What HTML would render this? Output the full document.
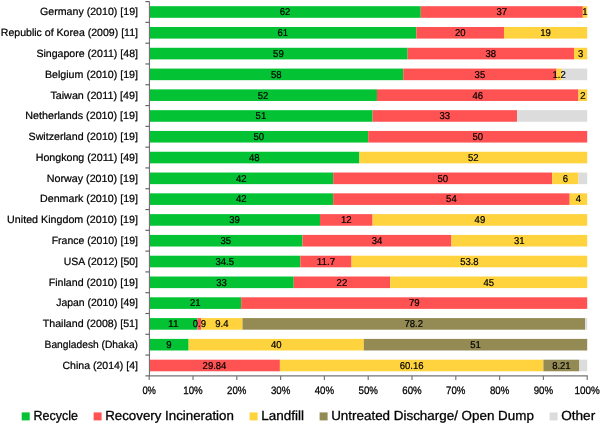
<!DOCTYPE html>
<html lang="en"><head><meta charset="utf-8"><title>Waste treatment by country</title>
<style>
html,body{margin:0;padding:0;background:#fff}
svg{display:block}
text{font-family:"Liberation Sans",Arial,sans-serif;fill:#000;stroke:#000;stroke-width:0.22px;text-rendering:geometricPrecision}
.s{font-size:10.5px}
.l{font-size:13.2px;stroke-width:0.3px}
.v{font-size:10px}
.a{font-size:10.8px;stroke-width:0.26px}
</style></head><body>
<svg width="600" height="425" viewBox="0 0 600 425">
<rect width="600" height="425" fill="#fff"/>
<g>
<rect x="149.20" y="6.20" width="271.56" height="11.6" fill="#03C334"/>
<rect x="420.76" y="6.20" width="162.06" height="11.6" fill="#FF5353"/>
<rect x="582.82" y="6.20" width="4.38" height="11.6" fill="#FED33E"/>
<text class="v" x="285.0" y="15.3" text-anchor="middle" textLength="10.6" lengthAdjust="spacingAndGlyphs">62</text>
<text class="v" x="501.8" y="15.3" text-anchor="middle" textLength="10.6" lengthAdjust="spacingAndGlyphs">37</text>
<text class="v" x="585.0" y="15.3" text-anchor="middle" textLength="5.3" lengthAdjust="spacingAndGlyphs">1</text>
<text class="s" x="138.0" y="15.3" text-anchor="end" textLength="97.9" lengthAdjust="spacingAndGlyphs">Germany (2010) [19]</text>
</g>
<g>
<rect x="149.20" y="26.99" width="267.18" height="11.6" fill="#03C334"/>
<rect x="416.38" y="26.99" width="87.60" height="11.6" fill="#FF5353"/>
<rect x="503.98" y="26.99" width="83.22" height="11.6" fill="#FED33E"/>
<text class="v" x="282.8" y="36.1" text-anchor="middle" textLength="10.6" lengthAdjust="spacingAndGlyphs">61</text>
<text class="v" x="460.2" y="36.1" text-anchor="middle" textLength="10.6" lengthAdjust="spacingAndGlyphs">20</text>
<text class="v" x="545.6" y="36.1" text-anchor="middle" textLength="10.6" lengthAdjust="spacingAndGlyphs">19</text>
<text class="s" x="138.0" y="36.1" text-anchor="end" textLength="137.2" lengthAdjust="spacingAndGlyphs">Republic of Korea (2009) [11]</text>
</g>
<g>
<rect x="149.20" y="47.78" width="258.42" height="11.6" fill="#03C334"/>
<rect x="407.62" y="47.78" width="166.44" height="11.6" fill="#FF5353"/>
<rect x="574.06" y="47.78" width="13.14" height="11.6" fill="#FED33E"/>
<text class="v" x="278.4" y="56.9" text-anchor="middle" textLength="10.6" lengthAdjust="spacingAndGlyphs">59</text>
<text class="v" x="490.8" y="56.9" text-anchor="middle" textLength="10.6" lengthAdjust="spacingAndGlyphs">38</text>
<text class="v" x="580.6" y="56.9" text-anchor="middle" textLength="5.3" lengthAdjust="spacingAndGlyphs">3</text>
<text class="s" x="138.0" y="56.9" text-anchor="end" textLength="101.6" lengthAdjust="spacingAndGlyphs">Singapore (2011) [48]</text>
</g>
<g>
<rect x="149.20" y="68.58" width="254.04" height="11.6" fill="#03C334"/>
<rect x="403.24" y="68.58" width="153.30" height="11.6" fill="#FF5353"/>
<rect x="556.54" y="68.58" width="5.26" height="11.6" fill="#FED33E"/>
<rect x="561.80" y="68.58" width="25.40" height="11.6" fill="#DCDCDC"/>
<text class="v" x="276.2" y="77.7" text-anchor="middle" textLength="10.6" lengthAdjust="spacingAndGlyphs">58</text>
<text class="v" x="479.9" y="77.7" text-anchor="middle" textLength="10.6" lengthAdjust="spacingAndGlyphs">35</text>
<text class="v" x="559.2" y="77.7" text-anchor="middle" textLength="13.2" lengthAdjust="spacingAndGlyphs">1.2</text>
<text class="s" x="138.0" y="77.7" text-anchor="end" textLength="93.1" lengthAdjust="spacingAndGlyphs">Belgium (2010) [19]</text>
</g>
<g>
<rect x="149.20" y="89.37" width="227.76" height="11.6" fill="#03C334"/>
<rect x="376.96" y="89.37" width="201.48" height="11.6" fill="#FF5353"/>
<rect x="578.44" y="89.37" width="8.76" height="11.6" fill="#FED33E"/>
<text class="v" x="263.1" y="98.5" text-anchor="middle" textLength="10.6" lengthAdjust="spacingAndGlyphs">52</text>
<text class="v" x="477.7" y="98.5" text-anchor="middle" textLength="10.6" lengthAdjust="spacingAndGlyphs">46</text>
<text class="v" x="582.8" y="98.5" text-anchor="middle" textLength="5.3" lengthAdjust="spacingAndGlyphs">2</text>
<text class="s" x="138.0" y="98.5" text-anchor="end" textLength="87.6" lengthAdjust="spacingAndGlyphs">Taiwan (2011) [49]</text>
</g>
<g>
<rect x="149.20" y="110.16" width="223.38" height="11.6" fill="#03C334"/>
<rect x="372.58" y="110.16" width="144.54" height="11.6" fill="#FF5353"/>
<rect x="517.12" y="110.16" width="70.08" height="11.6" fill="#DCDCDC"/>
<text class="v" x="260.9" y="119.3" text-anchor="middle" textLength="10.6" lengthAdjust="spacingAndGlyphs">51</text>
<text class="v" x="444.8" y="119.3" text-anchor="middle" textLength="10.6" lengthAdjust="spacingAndGlyphs">33</text>
<text class="s" x="138.0" y="119.3" text-anchor="end" textLength="112.7" lengthAdjust="spacingAndGlyphs">Netherlands (2010) [19]</text>
</g>
<g>
<rect x="149.20" y="130.95" width="219.00" height="11.6" fill="#03C334"/>
<rect x="368.20" y="130.95" width="219.00" height="11.6" fill="#FF5353"/>
<text class="v" x="258.7" y="140.1" text-anchor="middle" textLength="10.6" lengthAdjust="spacingAndGlyphs">50</text>
<text class="v" x="477.7" y="140.1" text-anchor="middle" textLength="10.6" lengthAdjust="spacingAndGlyphs">50</text>
<text class="s" x="138.0" y="140.1" text-anchor="end" textLength="109.4" lengthAdjust="spacingAndGlyphs">Switzerland (2010) [19]</text>
</g>
<g>
<rect x="149.20" y="151.75" width="210.24" height="11.6" fill="#03C334"/>
<rect x="359.44" y="151.75" width="227.76" height="11.6" fill="#FED33E"/>
<text class="v" x="254.3" y="160.8" text-anchor="middle" textLength="10.6" lengthAdjust="spacingAndGlyphs">48</text>
<text class="v" x="473.3" y="160.8" text-anchor="middle" textLength="10.6" lengthAdjust="spacingAndGlyphs">52</text>
<text class="s" x="138.0" y="160.8" text-anchor="end" textLength="102.3" lengthAdjust="spacingAndGlyphs">Hongkong (2011) [49]</text>
</g>
<g>
<rect x="149.20" y="172.54" width="183.96" height="11.6" fill="#03C334"/>
<rect x="333.16" y="172.54" width="219.00" height="11.6" fill="#FF5353"/>
<rect x="552.16" y="172.54" width="26.28" height="11.6" fill="#FED33E"/>
<rect x="578.44" y="172.54" width="8.76" height="11.6" fill="#DCDCDC"/>
<text class="v" x="241.2" y="181.6" text-anchor="middle" textLength="10.6" lengthAdjust="spacingAndGlyphs">42</text>
<text class="v" x="442.7" y="181.6" text-anchor="middle" textLength="10.6" lengthAdjust="spacingAndGlyphs">50</text>
<text class="v" x="565.3" y="181.6" text-anchor="middle" textLength="5.3" lengthAdjust="spacingAndGlyphs">6</text>
<text class="s" x="138.0" y="181.6" text-anchor="end" textLength="91.3" lengthAdjust="spacingAndGlyphs">Norway (2010) [19]</text>
</g>
<g>
<rect x="149.20" y="193.33" width="183.96" height="11.6" fill="#03C334"/>
<rect x="333.16" y="193.33" width="236.52" height="11.6" fill="#FF5353"/>
<rect x="569.68" y="193.33" width="17.52" height="11.6" fill="#FED33E"/>
<text class="v" x="241.2" y="202.4" text-anchor="middle" textLength="10.6" lengthAdjust="spacingAndGlyphs">42</text>
<text class="v" x="451.4" y="202.4" text-anchor="middle" textLength="10.6" lengthAdjust="spacingAndGlyphs">54</text>
<text class="v" x="578.4" y="202.4" text-anchor="middle" textLength="5.3" lengthAdjust="spacingAndGlyphs">4</text>
<text class="s" x="138.0" y="202.4" text-anchor="end" textLength="98.0" lengthAdjust="spacingAndGlyphs">Denmark (2010) [19]</text>
</g>
<g>
<rect x="149.20" y="214.13" width="170.82" height="11.6" fill="#03C334"/>
<rect x="320.02" y="214.13" width="52.56" height="11.6" fill="#FF5353"/>
<rect x="372.58" y="214.13" width="214.62" height="11.6" fill="#FED33E"/>
<text class="v" x="234.6" y="223.2" text-anchor="middle" textLength="10.6" lengthAdjust="spacingAndGlyphs">39</text>
<text class="v" x="346.3" y="223.2" text-anchor="middle" textLength="10.6" lengthAdjust="spacingAndGlyphs">12</text>
<text class="v" x="479.9" y="223.2" text-anchor="middle" textLength="10.6" lengthAdjust="spacingAndGlyphs">49</text>
<text class="s" x="138.0" y="223.2" text-anchor="end" textLength="130.9" lengthAdjust="spacingAndGlyphs">United Kingdom (2010) [19]</text>
</g>
<g>
<rect x="149.20" y="234.92" width="153.30" height="11.6" fill="#03C334"/>
<rect x="302.50" y="234.92" width="148.92" height="11.6" fill="#FF5353"/>
<rect x="451.42" y="234.92" width="135.78" height="11.6" fill="#FED33E"/>
<text class="v" x="225.8" y="244.0" text-anchor="middle" textLength="10.6" lengthAdjust="spacingAndGlyphs">35</text>
<text class="v" x="377.0" y="244.0" text-anchor="middle" textLength="10.6" lengthAdjust="spacingAndGlyphs">34</text>
<text class="v" x="519.3" y="244.0" text-anchor="middle" textLength="10.6" lengthAdjust="spacingAndGlyphs">31</text>
<text class="s" x="138.0" y="244.0" text-anchor="end" textLength="86.3" lengthAdjust="spacingAndGlyphs">France (2010) [19]</text>
</g>
<g>
<rect x="149.20" y="255.71" width="151.11" height="11.6" fill="#03C334"/>
<rect x="300.31" y="255.71" width="51.25" height="11.6" fill="#FF5353"/>
<rect x="351.56" y="255.71" width="235.64" height="11.6" fill="#FED33E"/>
<text class="v" x="224.8" y="264.8" text-anchor="middle" textLength="18.5" lengthAdjust="spacingAndGlyphs">34.5</text>
<text class="v" x="325.9" y="264.8" text-anchor="middle" textLength="18.5" lengthAdjust="spacingAndGlyphs">11.7</text>
<text class="v" x="469.4" y="264.8" text-anchor="middle" textLength="18.5" lengthAdjust="spacingAndGlyphs">53.8</text>
<text class="s" x="138.0" y="264.8" text-anchor="end" textLength="74.2" lengthAdjust="spacingAndGlyphs">USA (2012) [50]</text>
</g>
<g>
<rect x="149.20" y="276.51" width="144.54" height="11.6" fill="#03C334"/>
<rect x="293.74" y="276.51" width="96.36" height="11.6" fill="#FF5353"/>
<rect x="390.10" y="276.51" width="197.10" height="11.6" fill="#FED33E"/>
<text class="v" x="221.5" y="285.6" text-anchor="middle" textLength="10.6" lengthAdjust="spacingAndGlyphs">33</text>
<text class="v" x="341.9" y="285.6" text-anchor="middle" textLength="10.6" lengthAdjust="spacingAndGlyphs">22</text>
<text class="v" x="488.7" y="285.6" text-anchor="middle" textLength="10.6" lengthAdjust="spacingAndGlyphs">45</text>
<text class="s" x="138.0" y="285.6" text-anchor="end" textLength="89.3" lengthAdjust="spacingAndGlyphs">Finland (2010) [19]</text>
</g>
<g>
<rect x="149.20" y="297.30" width="91.98" height="11.6" fill="#03C334"/>
<rect x="241.18" y="297.30" width="346.02" height="11.6" fill="#FF5353"/>
<text class="v" x="195.2" y="306.4" text-anchor="middle" textLength="10.6" lengthAdjust="spacingAndGlyphs">21</text>
<text class="v" x="414.2" y="306.4" text-anchor="middle" textLength="10.6" lengthAdjust="spacingAndGlyphs">79</text>
<text class="s" x="138.0" y="306.4" text-anchor="end" textLength="81.8" lengthAdjust="spacingAndGlyphs">Japan (2010) [49]</text>
</g>
<g>
<rect x="149.20" y="318.09" width="48.18" height="11.6" fill="#03C334"/>
<rect x="197.38" y="318.09" width="3.94" height="11.6" fill="#FF5353"/>
<rect x="201.32" y="318.09" width="41.17" height="11.6" fill="#FED33E"/>
<rect x="242.49" y="318.09" width="342.52" height="11.6" fill="#948B54"/>
<rect x="585.01" y="318.09" width="2.19" height="11.6" fill="#DCDCDC"/>
<text class="v" x="173.3" y="327.2" text-anchor="middle" textLength="10.6" lengthAdjust="spacingAndGlyphs">11</text>
<text class="v" x="199.4" y="327.2" text-anchor="middle" textLength="13.2" lengthAdjust="spacingAndGlyphs">0.9</text>
<text class="v" x="221.9" y="327.2" text-anchor="middle" textLength="13.2" lengthAdjust="spacingAndGlyphs">9.4</text>
<text class="v" x="413.8" y="327.2" text-anchor="middle" textLength="18.5" lengthAdjust="spacingAndGlyphs">78.2</text>
<text class="s" x="138.0" y="327.2" text-anchor="end" textLength="95.2" lengthAdjust="spacingAndGlyphs">Thailand (2008) [51]</text>
</g>
<g>
<rect x="149.20" y="338.88" width="39.42" height="11.6" fill="#03C334"/>
<rect x="188.62" y="338.88" width="175.20" height="11.6" fill="#FED33E"/>
<rect x="363.82" y="338.88" width="223.38" height="11.6" fill="#948B54"/>
<text class="v" x="168.9" y="348.0" text-anchor="middle" textLength="5.3" lengthAdjust="spacingAndGlyphs">9</text>
<text class="v" x="276.2" y="348.0" text-anchor="middle" textLength="10.6" lengthAdjust="spacingAndGlyphs">40</text>
<text class="v" x="475.5" y="348.0" text-anchor="middle" textLength="10.6" lengthAdjust="spacingAndGlyphs">51</text>
<text class="s" x="138.0" y="348.0" text-anchor="end" textLength="93.4" lengthAdjust="spacingAndGlyphs">Bangladesh (Dhaka)</text>
</g>
<g>
<rect x="149.20" y="359.68" width="130.70" height="11.6" fill="#FF5353"/>
<rect x="279.90" y="359.68" width="263.50" height="11.6" fill="#FED33E"/>
<rect x="543.40" y="359.68" width="35.96" height="11.6" fill="#948B54"/>
<rect x="579.36" y="359.68" width="7.84" height="11.6" fill="#DCDCDC"/>
<text class="v" x="214.5" y="368.8" text-anchor="middle" textLength="23.8" lengthAdjust="spacingAndGlyphs">29.84</text>
<text class="v" x="411.6" y="368.8" text-anchor="middle" textLength="23.8" lengthAdjust="spacingAndGlyphs">60.16</text>
<text class="v" x="561.4" y="368.8" text-anchor="middle" textLength="18.5" lengthAdjust="spacingAndGlyphs">8.21</text>
<text class="s" x="138.0" y="368.8" text-anchor="end" textLength="75.5" lengthAdjust="spacingAndGlyphs">China (2014) [4]</text>
</g>
<g stroke="#747474" stroke-width="1.15" fill="none">
<path d="M149.45 1.6 V375.874"/>
<path stroke="#606060" d="M145.4 1.60 H149.45"/>
<path stroke="#606060" d="M145.4 22.39 H149.45"/>
<path stroke="#606060" d="M145.4 43.19 H149.45"/>
<path stroke="#606060" d="M145.4 63.98 H149.45"/>
<path stroke="#606060" d="M145.4 84.77 H149.45"/>
<path stroke="#606060" d="M145.4 105.56 H149.45"/>
<path stroke="#606060" d="M145.4 126.36 H149.45"/>
<path stroke="#606060" d="M145.4 147.15 H149.45"/>
<path stroke="#606060" d="M145.4 167.94 H149.45"/>
<path stroke="#606060" d="M145.4 188.74 H149.45"/>
<path stroke="#606060" d="M145.4 209.53 H149.45"/>
<path stroke="#606060" d="M145.4 230.32 H149.45"/>
<path stroke="#606060" d="M145.4 251.12 H149.45"/>
<path stroke="#606060" d="M145.4 271.91 H149.45"/>
<path stroke="#606060" d="M145.4 292.70 H149.45"/>
<path stroke="#606060" d="M145.4 313.50 H149.45"/>
<path stroke="#606060" d="M145.4 334.29 H149.45"/>
<path stroke="#606060" d="M145.4 355.08 H149.45"/>
<path stroke="#606060" d="M145.4 375.87 H149.45"/>
<path d="M148.9 375.87 H587.7"/>
<path d="M149.20 375.87 V379.97"/>
<path d="M193.00 375.87 V379.97"/>
<path d="M236.80 375.87 V379.97"/>
<path d="M280.60 375.87 V379.97"/>
<path d="M324.40 375.87 V379.97"/>
<path d="M368.20 375.87 V379.97"/>
<path d="M412.00 375.87 V379.97"/>
<path d="M455.80 375.87 V379.97"/>
<path d="M499.60 375.87 V379.97"/>
<path d="M543.40 375.87 V379.97"/>
<path d="M587.20 375.87 V379.97"/>
</g>
<text class="a" x="149.2" y="394.4" text-anchor="middle" textLength="13.6" lengthAdjust="spacingAndGlyphs">0%</text>
<text class="a" x="193.0" y="394.4" text-anchor="middle" textLength="19.4" lengthAdjust="spacingAndGlyphs">10%</text>
<text class="a" x="236.8" y="394.4" text-anchor="middle" textLength="19.4" lengthAdjust="spacingAndGlyphs">20%</text>
<text class="a" x="280.6" y="394.4" text-anchor="middle" textLength="19.4" lengthAdjust="spacingAndGlyphs">30%</text>
<text class="a" x="324.4" y="394.4" text-anchor="middle" textLength="19.4" lengthAdjust="spacingAndGlyphs">40%</text>
<text class="a" x="368.2" y="394.4" text-anchor="middle" textLength="19.4" lengthAdjust="spacingAndGlyphs">50%</text>
<text class="a" x="412.0" y="394.4" text-anchor="middle" textLength="19.4" lengthAdjust="spacingAndGlyphs">60%</text>
<text class="a" x="455.8" y="394.4" text-anchor="middle" textLength="19.4" lengthAdjust="spacingAndGlyphs">70%</text>
<text class="a" x="499.6" y="394.4" text-anchor="middle" textLength="19.4" lengthAdjust="spacingAndGlyphs">80%</text>
<text class="a" x="543.4" y="394.4" text-anchor="middle" textLength="19.4" lengthAdjust="spacingAndGlyphs">90%</text>
<text class="a" x="587.2" y="394.4" text-anchor="middle" textLength="25.3" lengthAdjust="spacingAndGlyphs">100%</text>
<rect x="21.7" y="412.4" width="8" height="8" fill="#03C334"/>
<text class="l" x="33.6" y="420.1" textLength="44.4" lengthAdjust="spacingAndGlyphs">Recycle</text>
<rect x="93.6" y="412.4" width="8" height="8" fill="#FF5353"/>
<text class="l" x="105.2" y="420.1" textLength="128.7" lengthAdjust="spacingAndGlyphs">Recovery Incineration</text>
<rect x="249.6" y="412.4" width="8" height="8" fill="#FED33E"/>
<text class="l" x="261.2" y="420.1" textLength="42.7" lengthAdjust="spacingAndGlyphs">Landfill</text>
<rect x="319.6" y="412.4" width="8" height="8" fill="#948B54"/>
<text class="l" x="331.2" y="420.1" textLength="202.7" lengthAdjust="spacingAndGlyphs">Untreated Discharge/ Open Dump</text>
<rect x="549.6" y="412.4" width="8" height="8" fill="#DCDCDC"/>
<text class="l" x="561.2" y="420.1" textLength="34.0" lengthAdjust="spacingAndGlyphs">Other</text>
</svg>
</body></html>
